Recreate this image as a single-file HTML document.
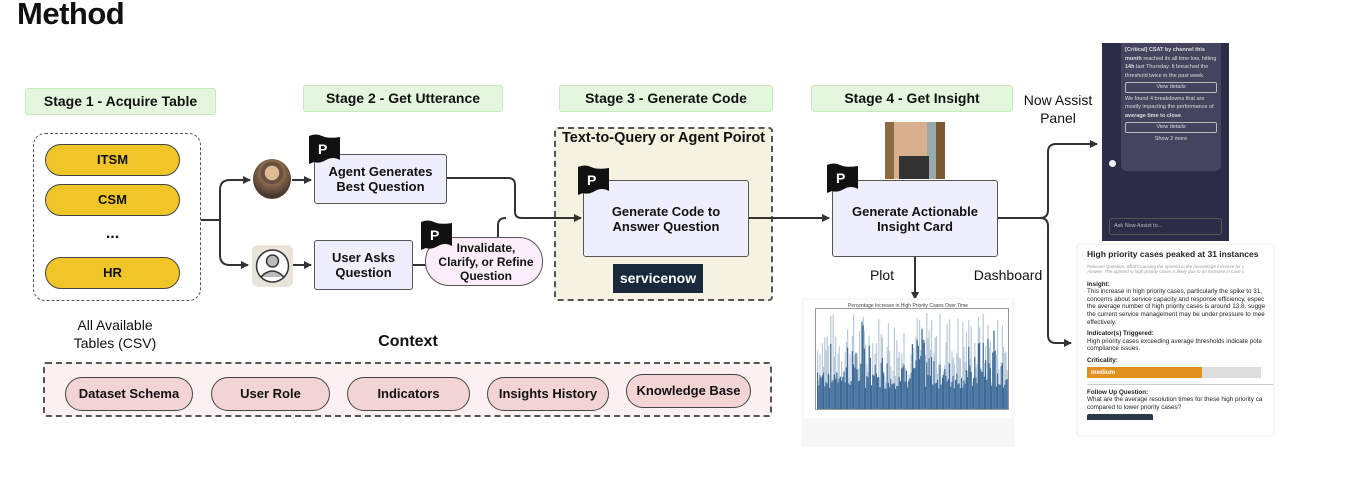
<!DOCTYPE html>
<html><head><meta charset="utf-8"><style>
body{margin:0;width:1348px;height:496px;background:#fff;position:relative;overflow:hidden;font-family:"Liberation Sans",Arial,sans-serif;color:#111}
.a{position:absolute;box-sizing:border-box}
.stage{background:#e4f7de;border:1.5px solid #c5ebbd;border-radius:3px;font-weight:bold;font-size:14px;text-align:center;line-height:24px}
.pill{background:#f0c529;border:1.5px solid #444;border-radius:16px;font-weight:bold;font-size:13px;text-align:center;line-height:29px}
.box{background:#eeeefc;border:1.5px solid #555;border-radius:3px;font-weight:bold;font-size:13px;text-align:center;display:flex;align-items:center;justify-content:center;line-height:15px}
.cp{background:#f3d4d4;border:1.5px solid #444;border-radius:17px;font-weight:bold;font-size:13px;text-align:center;line-height:31px}
.t{font-size:14px;text-align:center}
</style></head><body>
<div class="a" style="left:17px;top:-4px;font-size:31px;font-weight:bold;letter-spacing:-0.5px">Method</div>

<div class="a stage" style="left:25px;top:88px;width:191px;height:27px">Stage 1 - Acquire Table</div>
<div class="a stage" style="left:303px;top:85px;width:200px;height:27px">Stage 2 - Get Utterance</div>
<div class="a stage" style="left:559px;top:85px;width:214px;height:27px">Stage 3 - Generate Code</div>
<div class="a stage" style="left:811px;top:85px;width:202px;height:27px">Stage 4 - Get Insight</div>

<div class="a" style="left:33px;top:133px;width:168px;height:168px;border:1.8px dashed #555;border-radius:12px"></div>
<div class="a pill" style="left:45px;top:144px;width:135px;height:32px">ITSM</div>
<div class="a pill" style="left:45px;top:184px;width:135px;height:32px">CSM</div>
<div class="a" style="left:45px;top:225px;width:135px;text-align:center;font-weight:bold;font-size:16px">...</div>
<div class="a pill" style="left:45px;top:257px;width:135px;height:32px">HR</div>
<div class="a t" style="left:45px;top:316px;width:140px;line-height:18px">All Available<br>Tables (CSV)</div>

<div class="a" style="left:554px;top:127px;width:219px;height:174px;background:#f5f2e1;border:2px dashed #555;border-radius:4px"></div>
<div class="a" style="left:554px;top:130px;width:219px;text-align:center;font-weight:bold;font-size:14.5px">Text-to-Query or Agent Poirot</div>

<div class="a" style="left:43px;top:362px;width:729px;height:55px;background:#fcf0f0;border:2px dashed #555;border-radius:3px"></div>
<div class="a" style="left:340px;top:333px;width:136px;text-align:center;font-weight:bold;font-size:16px">Context</div>
<div class="a cp" style="left:65px;top:377px;width:128px;height:34px">Dataset Schema</div>
<div class="a cp" style="left:211px;top:377px;width:119px;height:34px">User Role</div>
<div class="a cp" style="left:347px;top:377px;width:123px;height:34px">Indicators</div>
<div class="a cp" style="left:487px;top:377px;width:122px;height:34px">Insights History</div>
<div class="a cp" style="left:626px;top:374px;width:125px;height:34px">Knowledge Base</div>

<svg class="a" style="left:0;top:0" width="1348" height="496">
<defs><marker id="ar" markerWidth="8" markerHeight="8" refX="7" refY="4" orient="auto" markerUnits="userSpaceOnUse"><path d="M0,0 L8,4 L0,8z" fill="#333"/></marker></defs>
<g stroke="#333" stroke-width="2" fill="none">
<path d="M201,220 H220 M230,180 Q220,180 220,190 V255 Q220,265 230,265 H248" marker-end="url(#ar)"/>
<path d="M230,180 H250" marker-end="url(#ar)"/>
<path d="M292,180 H311" marker-end="url(#ar)"/>
<path d="M292,265 H311" marker-end="url(#ar)"/>
<path d="M412,265 H426"/>
<path d="M446,178 H508 Q515,178 515,185 V212 Q515,218 522,218 H581" marker-end="url(#ar)"/>
<path d="M498,238 V225 Q498,218 506,218"/>
<path d="M748,218 H829" marker-end="url(#ar)"/>
<path d="M915,257 V299" marker-end="url(#ar)"/>
<path d="M997,218 H1040 Q1048,218 1048,210 V152 Q1048,144 1056,144 H1097" marker-end="url(#ar)"/>
<path d="M1040,218 Q1048,218 1048,226 V335 Q1048,343 1056,343 H1071" marker-end="url(#ar)"/>
</g>
</svg>

<div class="a box" style="left:314px;top:154px;width:133px;height:50px">Agent Generates<br>Best Question</div>
<div class="a box" style="left:314px;top:240px;width:99px;height:50px">User Asks<br>Question</div>
<div class="a box" style="left:425px;top:237px;width:118px;height:49px;background:#fbeefa;border-radius:24px;font-size:12px;line-height:14px;padding-left:4px">Invalidate,<br>Clarify, or Refine<br>Question</div>
<div class="a box" style="left:583px;top:180px;width:166px;height:77px">Generate Code to<br>Answer Question</div>
<div class="a box" style="left:832px;top:180px;width:166px;height:77px">Generate Actionable<br>Insight Card</div>

<!-- flags -->
<svg class="a" style="left:308px;top:134px" width="34" height="34"><path d="M1,2 Q8,-1 14,2 T32,3 V26 Q25,22 18,26 T6,28 L1,30z" fill="#111"/><text x="10" y="20" fill="#fff" font-weight="bold" font-size="14" font-family="Liberation Sans">P</text></svg>
<svg class="a" style="left:420px;top:220px" width="34" height="34"><path d="M1,2 Q8,-1 14,2 T32,3 V26 Q25,22 18,26 T6,28 L1,30z" fill="#111"/><text x="10" y="20" fill="#fff" font-weight="bold" font-size="14" font-family="Liberation Sans">P</text></svg>
<svg class="a" style="left:577px;top:165px" width="34" height="34"><path d="M1,2 Q8,-1 14,2 T32,3 V26 Q25,22 18,26 T6,28 L1,30z" fill="#111"/><text x="10" y="20" fill="#fff" font-weight="bold" font-size="14" font-family="Liberation Sans">P</text></svg>
<svg class="a" style="left:826px;top:163px" width="34" height="34"><path d="M1,2 Q8,-1 14,2 T32,3 V26 Q25,22 18,26 T6,28 L1,30z" fill="#111"/><text x="10" y="20" fill="#fff" font-weight="bold" font-size="14" font-family="Liberation Sans">P</text></svg>

<!-- avatars -->
<div class="a" style="left:253px;top:159px;width:38px;height:40px;border-radius:50%;background:radial-gradient(circle at 50% 35%,#e0b995 0 22%,#6b5240 23% 35%,#8a6b4e 36%,#4a3a30 70%)"></div>
<svg class="a" style="left:252px;top:245px" width="41" height="42"><rect width="41" height="42" rx="6" fill="#e9e3da"/><circle cx="20.5" cy="21" r="16" fill="#fff" stroke="#333" stroke-width="1.5"/><circle cx="20.5" cy="16" r="6" fill="#bbb" stroke="#333" stroke-width="1.5"/><path d="M9,32 Q20,20 32,32" fill="#bbb" stroke="#333" stroke-width="1.5"/></svg>
<div class="a" style="left:885px;top:122px;width:60px;height:57px;background:linear-gradient(90deg,#8a6a3e 0 15%,#d8b08e 15% 70%,#9aa 70% 85%,#7a5a33 85%)"><div class="a" style="left:14px;top:34px;width:30px;height:23px;background:#333"></div></div>

<div class="a" style="left:613px;top:264px;width:90px;height:29px;background:#17293a;color:#fff;font-size:14px;font-weight:bold;text-align:center;line-height:29px">servicenow</div>

<div class="a t" style="left:860px;top:267px;width:44px">Plot</div>
<div class="a t" style="left:968px;top:267px;width:80px">Dashboard</div>
<div class="a t" style="left:1020px;top:91px;width:76px;line-height:18px;white-space:nowrap">Now Assist<br>Panel</div>

<!-- plot -->
<div class="a" style="left:802px;top:298px;width:213px;height:149px;background:#f7f7f7"></div>
<div class="a" style="left:804px;top:300px;width:207px;height:118px;background:#fff"></div>
<div class="a" style="left:818px;top:303px;width:180px;font-size:5px;text-align:center;color:#444">Percentage Increase in High Priority Cases Over Time</div>
<svg id="pl" class="a" style="left:815px;top:308px" width="194" height="102"><rect x="0.5" y="0.5" width="193" height="101" fill="#fff" stroke="#999"/></svg>

<!-- now assist -->
<div class="a" style="left:1102px;top:43px;width:127px;height:198px;background:#2d2c48">
<div class="a" style="left:19px;top:0;width:100px;height:128px;background:#45445e;border-radius:0 0 6px 6px;color:#ddd;font-size:5.5px;line-height:8.5px;padding:3px 4px">
<b>[Critical] CSAT by channel this month</b> reached its all time low, hitting <b>14h</b> last Thursday. It breached the threshold twice in the past week.
<div style="border:1px solid #bbb;border-radius:2px;text-align:center;margin:2px 0">View details</div>
We found 4 breakdowns that are mostly impacting the performance of <b>average time to close</b>.
<div style="border:1px solid #bbb;border-radius:2px;text-align:center;margin:2px 0">View details</div>
<div style="text-align:center">Show 2 more</div></div>
<div class="a" style="left:7px;top:117px;width:7px;height:7px;border-radius:50%;background:#eee"></div>
<div class="a" style="left:7px;top:175px;width:113px;height:17px;border:1px solid #555;border-radius:3px;color:#bbb;font-size:5.5px;line-height:15px;padding-left:4px">Ask Now Assist to...</div>
</div>

<!-- insight card -->
<div class="a" style="left:1078px;top:245px;width:195px;height:190px;background:#fff;overflow:hidden;font-size:6.3px;line-height:7.6px;padding:6px 0 0 9px;color:#222;box-shadow:0 0 3px #ddd">
<div style="font-weight:bold;font-size:8.5px;margin-bottom:5px">High priority cases peaked at 31 instances</div>
<div style="color:#999;font-style:italic;font-size:4.5px;line-height:5.5px;white-space:nowrap">Relevant Question: what's causing the uptrend in the percentage increase for c<br>Answer: The uptrend in high priority cases is likely due to an increase in case v</div>
<div style="font-weight:bold;margin-top:6px">Insight:</div>
<div style="white-space:nowrap">This increase in high priority cases, particularly the spike to 31,<br>concerns about service capacity and response efficiency, espec<br>the average number of high priority cases is around 13.8, sugge<br>the current service management may be under pressure to mee<br>effectively.</div>
<div style="font-weight:bold;margin-top:4px">Indicator(s) Triggered:</div>
<div style="white-space:nowrap">High priority cases exceeding average thresholds indicate pote<br>compliance issues.</div>
<div style="font-weight:bold;margin-top:4px">Criticality:</div>
<div style="width:174px;height:11px;background:#ddd;margin-top:2px"><div style="width:115px;height:11px;background:#e0901f;color:#fff;font-weight:bold;line-height:11px;padding-left:4px;box-sizing:border-box">medium</div></div>
<div style="border-top:1px solid #ccc;margin-top:6px;padding-top:4px;font-weight:bold">Follow Up Question:</div>
<div style="white-space:nowrap">What are the average resolution times for these high priority ca<br>compared to lower priority cases?</div>
<div style="width:66px;height:6px;background:#2b3a4d;margin-top:3px;border-radius:2px 2px 0 0"></div>
</div>

<script>
var s=document.getElementById('pl'),h='',r=7;
function rnd(){r=(r*9301+49297)%233280;return r/233280;}
for(var x=2;x<192;x+=1.2){var v=20+rnd()*78,d=(x>30&&x<55)||(x>90&&x<110)||(x>160&&x<180)?0.8:0.5;
h+='<rect x="'+x+'" y="'+(101-v)+'" width="1.2" height="'+v+'" fill="#b9cad9"/>';
var v2=v*d*rnd()+20;h+='<rect x="'+x+'" y="'+(101-v2)+'" width="1.2" height="'+v2+'" fill="#3d6a98"/>';}
s.innerHTML+=h;
</script>
</body></html>
